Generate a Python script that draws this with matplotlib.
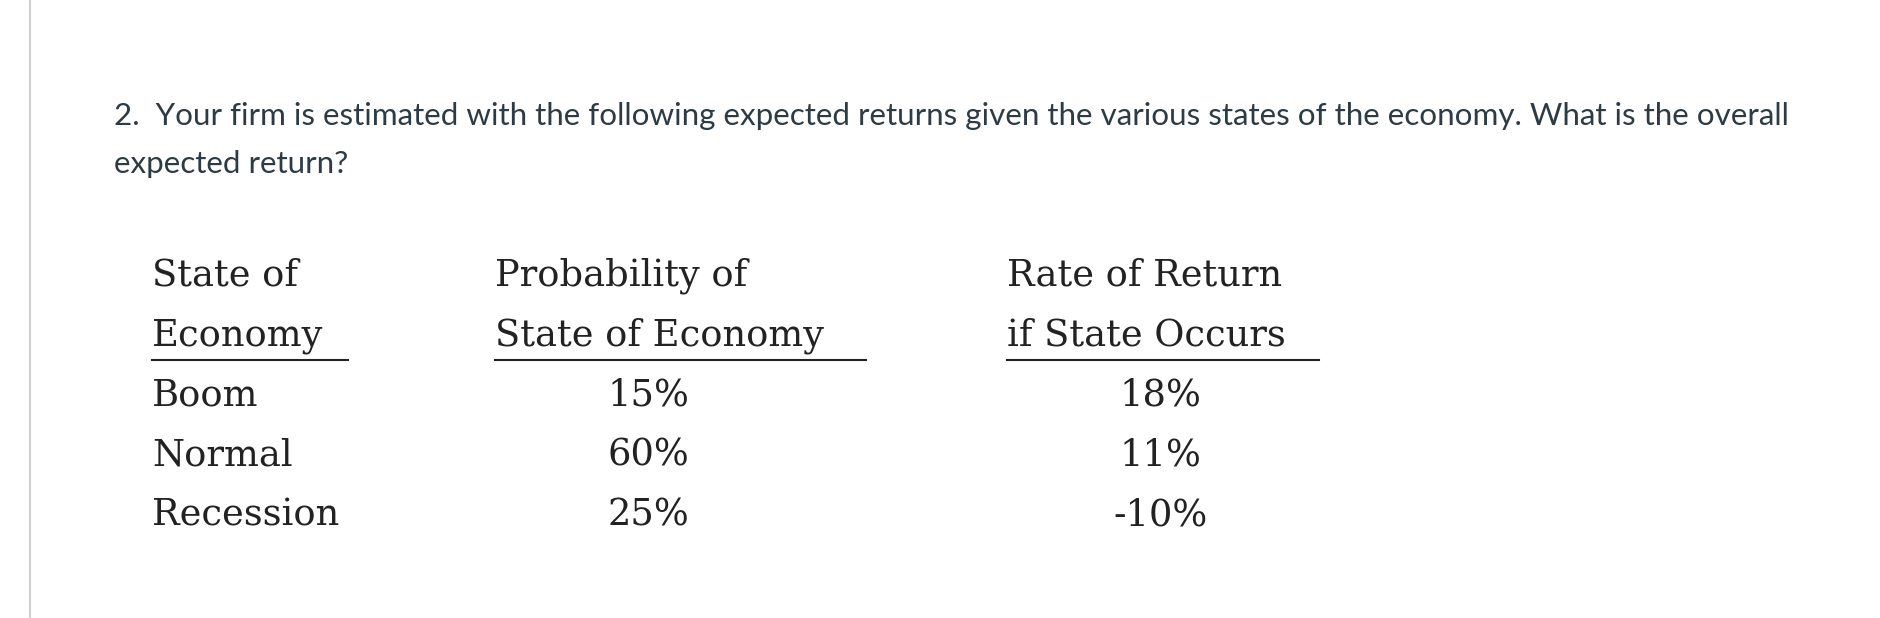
import matplotlib.pyplot as plt

question = ["2.  Your firm is estimated with the following expected returns given the various states of the economy. What is the overall",
            "expected return?"]
header1 = ["State of", "Probability of", "Rate of Return"]
header2 = ["Economy", "State of Economy", "if State Occurs"]
states = ["Boom", "Normal", "Recession"]
probs = ["15%", "60%", "25%"]
returns = ["18%", "11%", "-10%"]

W, H = 1568, 515
fig = plt.figure(figsize=(18.8, 6.18), dpi=100)
fig.patch.set_facecolor("white")


def fx(x):
    return x / W


def fy(y):
    return 1 - y / H


fig.add_artist(plt.Line2D([fx(25), fx(25)], [0, 1], color="#d0d0d0", lw=1.5))

for i, line in enumerate(question):
    fig.text(fx(95), fy(97 + 40 * i), line, family="Lato", fontsize=22.6,
             color="#2d3b45", va="center")

serif = dict(family="DejaVu Serif", fontsize=26.5, color="#222222", va="center")
cols = [127, 413, 840]
for c, h1, h2 in zip(cols, header1, header2):
    fig.text(fx(c), fy(230), h1, **serif)
    fig.text(fx(c), fy(280), h2, **serif)

for x0, x1 in [(127, 290), (413, 722), (840, 1100)]:
    fig.add_artist(plt.Line2D([fx(x0), fx(x1)], [fy(300), fy(300)], color="#222222", lw=1.5))

for i, (s, p, r) in enumerate(zip(states, probs, returns)):
    y = fy(330 + 50 * i)
    fig.text(fx(127), y, s, **serif)
    fig.text(fx(541), y, p, ha="center", **serif)
    fig.text(fx(968), y, r, ha="center", **serif)

fig.savefig("out.png", dpi=100)
